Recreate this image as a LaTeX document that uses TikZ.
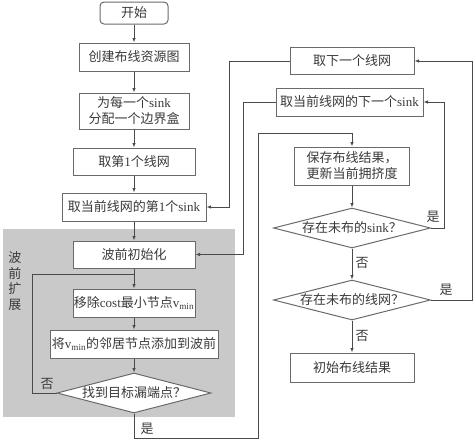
\documentclass[tikz,border=0pt]{standalone}
\usepackage{fontspec}
\setmainfont{Liberation Serif}
\newfontfamily\cjk{Noto Sans CJK SC}
\usetikzlibrary{shapes.geometric,arrows.meta}
\newcommand\en[1]{{\rmfamily #1}}
\definecolor{boxc}{HTML}{6A6A6A}
\definecolor{linec}{HTML}{4A4A4A}
\definecolor{txtc}{HTML}{3A3A3A}
\definecolor{grayfill}{HTML}{C9C9C9}
\begin{document}
\begin{tikzpicture}[x=1pt,y=-1pt,
  font=\cjk\fontsize{13}{16}\selectfont,
  box/.style={draw=boxc, line width=1pt, fill=white, inner sep=0pt, text=txtc, align=center},
  dia/.style={diamond, shape aspect=3.85, draw=boxc, line width=1pt, fill=white, inner sep=0pt, text=txtc},
  conn/.style={draw=linec, line width=0.8pt},
  arr/.style={conn, -{Latex[length=4.5pt,width=3.5pt]}},
  lbl/.style={text=txtc, inner sep=0pt}]
\fill[white] (0,0) rectangle (474,440);
\useasboundingbox (0,0) rectangle (474,440);
\fill[grayfill] (3,229) rectangle (235,417);

% left column
\node[box, rounded corners=4pt, minimum width=68pt, minimum height=22pt] (start) at (134,13) {开始};
\node[box, minimum width=110pt, minimum height=28pt] (create) at (134,57) {创建布线资源图};
\node[box, minimum width=110pt, minimum height=36pt] (bbox) at (134,111) {为每一个\en{sink}\\分配一个边界盒};
\node[box, minimum width=122pt, minimum height=27pt] (net1) at (134,161.5) {取第\en{1}个线网};
\node[box, minimum width=144pt, minimum height=28pt] (sink1) at (134,207) {取当前线网的第\en{1}个\en{sink}};
\node[box, minimum width=122pt, minimum height=27pt] (init) at (134,254.5) {波前初始化};
\node[box, minimum width=122pt, minimum height=28pt] (remove) at (134,303) {移除\en{cost}最小节点\en{v\textsubscript{min}}};
\node[box, minimum width=168pt, minimum height=28pt] (neigh) at (134,344) {将\en{v\textsubscript{min}}的邻居节点添加到波前};
\node[dia, minimum width=154pt, minimum height=40pt] (d1) at (134,393) {找到目标漏端点？};
\node[lbl, align=center, font=\cjk\fontsize{13}{15.5}\selectfont] (lab) at (15,281) {波\\前\\扩\\展};

% right column
\node[box, minimum width=124pt, minimum height=27pt] (nextnet) at (352,61) {取下一个线网};
\node[box, minimum width=147pt, minimum height=28pt] (nextsink) at (349.5,102) {取当前线网的下一个\en{sink}};
\node[box, minimum width=115pt, minimum height=38pt] (save) at (352,166) {保存布线结果，\\更新当前拥挤度};
\node[dia, minimum width=157pt, minimum height=40pt] (d2) at (352,228) {存在未布的\en{sink}？};
\node[dia, minimum width=157pt, minimum height=40pt] (d3) at (352,300) {存在未布的线网？};
\node[box, minimum width=124pt, minimum height=29pt] (result) at (352,367.5) {初始布线结果};

% connectors
\draw[arr] (start) -- (create);
\draw[arr] (create) -- (bbox);
\draw[arr] (bbox) -- (net1);
\draw[arr] (net1) -- (sink1);
\draw[arr] (sink1) -- (init);
\draw[arr] (init) -- (remove);
\draw[arr] (remove) -- (neigh);
\draw[arr] (neigh) -- (d1);
\coordinate (loopL) at (32,274);
\draw[conn] (d1.west) -| (loopL) -- (loopL -| init.south);
\node[lbl] (no1) at (47,384) {否};
\coordinate (yesB) at (258,438);
\coordinate (yesT) at (258,133);
\draw[arr] (d1.south) |- (yesB) -- (yesT) -| (save.north);
\node[lbl] (yes1) at (147,429) {是};
\draw[arr] (save) -- (d2);
\draw[arr] (d2) -- (d3);
\node[lbl] (no2) at (362,263) {否};
\draw[arr] (d3) -- (result);
\node[lbl] (no3) at (362,336) {否};
\coordinate (r2) at (444,228);
\draw[arr] (d2.east) -- (r2) |- (nextsink.east);
\node[lbl] (yes2) at (433,217) {是};
\coordinate (r3) at (472,300);
\draw[arr] (d3.east) -- (r3) |- (nextnet.east);
\node[lbl] (yes3) at (446,290) {是};
\coordinate (l1) at (229,61);
\draw[arr] (nextnet.west) -- (l1) |- (sink1.east);
\coordinate (l2) at (243,102);
\draw[arr] (nextsink.west) -- (l2) |- (init.east);
\end{tikzpicture}
\end{document}
